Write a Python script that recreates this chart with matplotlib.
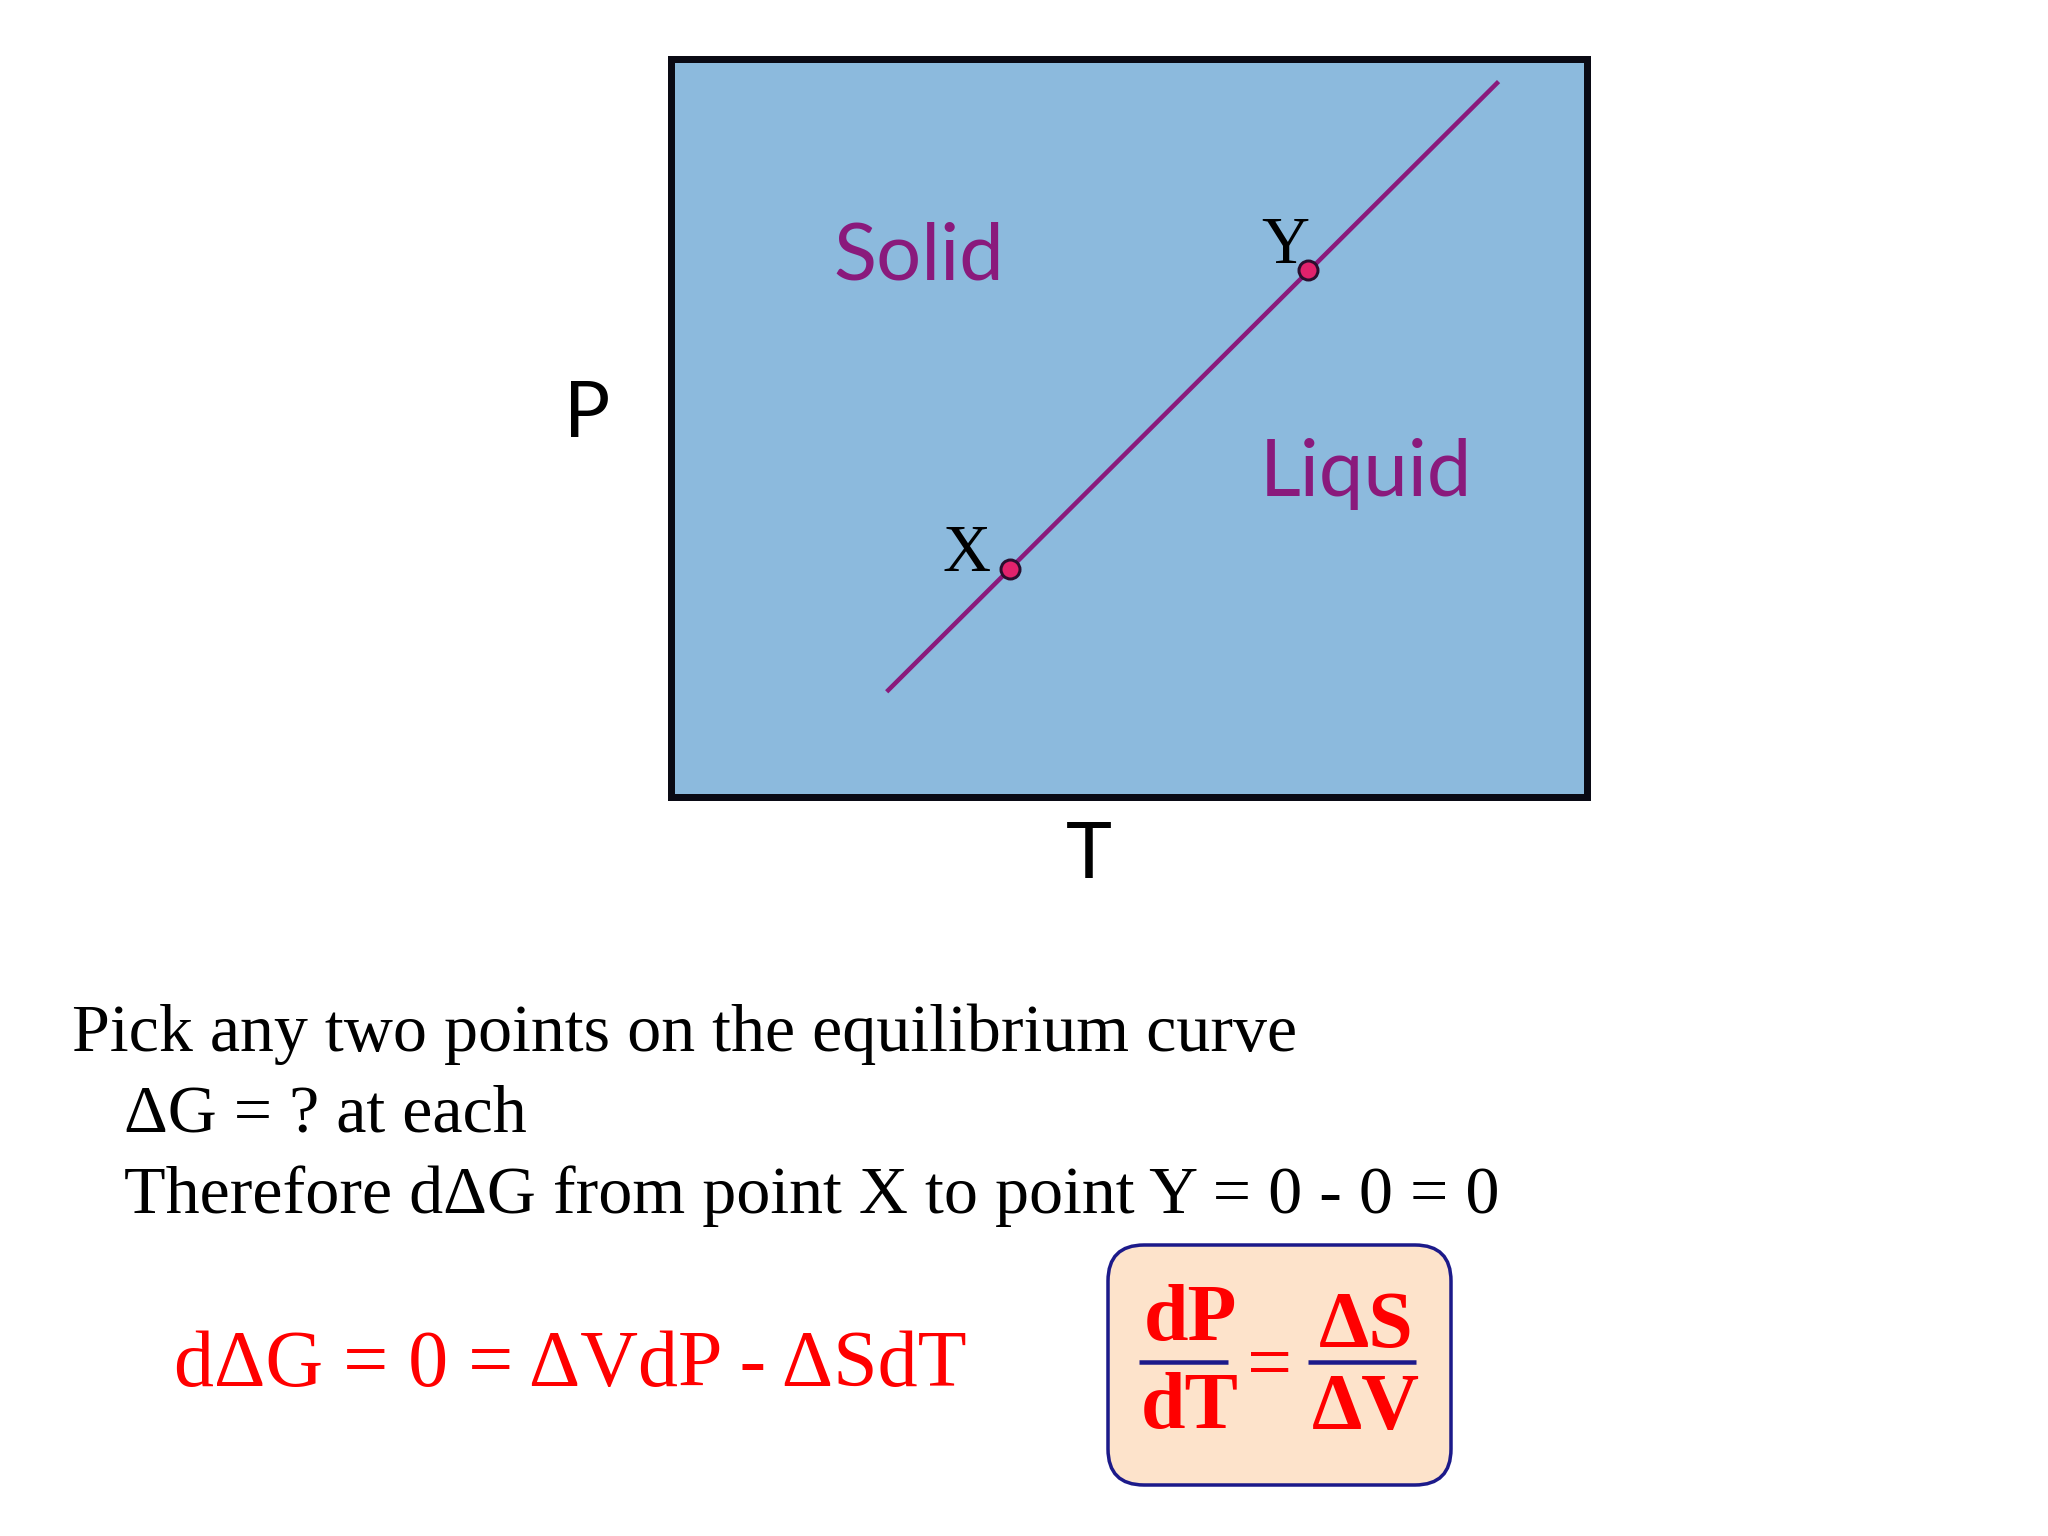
import matplotlib
matplotlib.use("Agg")
import matplotlib.pyplot as plt
from matplotlib.patches import FancyBboxPatch

# phase diagram data (arbitrary T / P units, box spans 0..10 by 0..8)
curve_T = [2.36, 9.04]
curve_P = [1.14, 7.75]
point_names = ["X", "Y"]
point_T = [3.71, 6.96]
point_P = [2.47, 5.71]

# slide text
text_lines = [
    "Pick any two points on the equilibrium curve",
    "ΔG = ? at each",
    "Therefore dΔG from point X to point Y = 0 - 0 = 0",
]
red_eq = "dΔG = 0 = ΔVdP - ΔSdT"
frac_num = ["dP", "ΔS"]
frac_den = ["dT", "ΔV"]

W, H, DPI = 2048, 1536, 100


def pt(px):
    # pixel height -> font points
    return px * 72 / DPI


fig = plt.figure(figsize=(W / DPI, H / DPI), dpi=DPI)
fig.patch.set_facecolor("white")

# main box in pixel coords: left 670.5, right 1586.5, top 58.5, bottom 797
bx0, bx1, by0, by1 = 670.5, 1586.5, 58.5, 797
ax = fig.add_axes([bx0 / W, 1 - by1 / H, (bx1 - bx0) / W, (by1 - by0) / H])
ax.set_facecolor("#8cbadd")
ax.set_xlim(0, 10)
ax.set_ylim(0, 8)
ax.set_xticks([])
ax.set_yticks([])
for s in ax.spines.values():
    s.set_linewidth(pt(7))
    s.set_color("#0a0a14")

purple = "#8a1a7c"
ax.plot(curve_T, curve_P, color=purple, lw=pt(4.5), solid_capstyle="butt")
ax.plot(point_T, point_P, "o", ms=pt(19), mfc="#e2226c", mec="#2a0f2e", mew=pt(3))

# overlay in pixel coordinates for the text
ov = fig.add_axes([0, 0, 1, 1])
ov.set_xlim(0, W)
ov.set_ylim(H, 0)
ov.axis("off")
ov.patch.set_visible(False)
ov.set_zorder(3)

sans = "Lato"
serif = "Liberation Serif"

ov.text(833, 280, "Solid", family=sans, fontsize=pt(79.5), color=purple, va="baseline")
ov.text(1260, 496, "Liquid", family=sans, fontsize=pt(79.5), color=purple, va="baseline")
ov.text(564, 437, "P", family=sans, fontsize=pt(77), color="black", va="baseline")
ov.text(1066, 878, "T", family=sans, fontsize=pt(78), color="black", va="baseline")

# X / Y labels just left-above their points
ov.text(943, 571, point_names[0], family=serif, fontsize=pt(66.5), va="baseline")
ov.text(1261, 263, point_names[1], family=serif, fontsize=pt(66.5), va="baseline")

# black explanation lines
line_x = [72, 124, 124]
line_y = [1051, 1132, 1213]
for s, x, y in zip(text_lines, line_x, line_y):
    ov.text(x, y, s, family=serif, fontsize=pt(68), color="black", va="baseline")

red = "#ff0000"
ov.text(174, 1386, red_eq, family=serif, fontsize=pt(80), color=red, va="baseline")

# Clapeyron box
box = FancyBboxPatch((1108, 1245), 343, 240,
                     boxstyle="round,pad=0,rounding_size=36",
                     fc="#fde3cb", ec="#1c1a8a", lw=pt(3.5))
ov.add_patch(box)

navy = "#1c1a8a"
frac_x = [1190, 1366]
num_y = [1340, 1347]
den_y = [1428, 1429]
bar_x = [(1139, 1228), (1308, 1416)]
for i in range(2):
    ov.text(frac_x[i], num_y[i], frac_num[i], family=serif, weight="bold",
            fontsize=pt(80), color=red, ha="center", va="baseline")
    ov.text(frac_x[i], den_y[i], frac_den[i], family=serif, weight="bold",
            fontsize=pt(80), color=red, ha="center", va="baseline")
    ov.plot(bar_x[i], [1362, 1362], color=navy, lw=pt(4.5), solid_capstyle="butt")
ov.text(1270, 1389, "=", family=serif, fontsize=pt(80),
        color=red, ha="center", va="baseline")

fig.savefig("out.png", dpi=DPI)
